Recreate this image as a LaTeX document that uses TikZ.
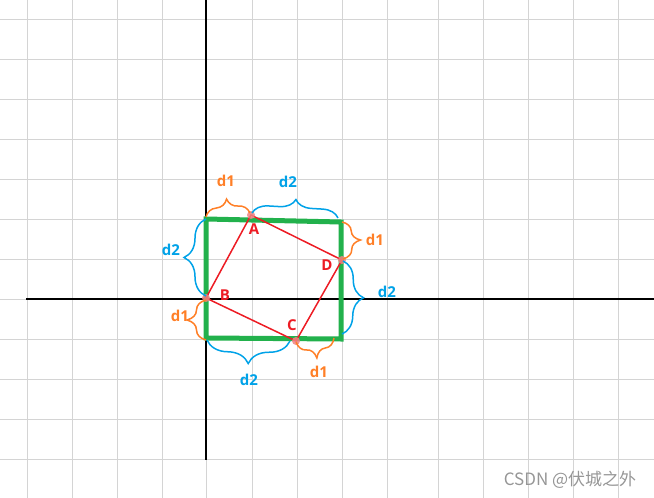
\documentclass[tikz,border=0pt]{standalone}
\usepackage{fontspec}
\setmainfont{Open Sans}
\newfontfamily\cjk{Noto Sans CJK SC}
\usetikzlibrary{decorations.pathreplacing}
\definecolor{racs}{RGB}{212,212,212}
\definecolor{zold}{RGB}{34,177,76}
\definecolor{piros}{RGB}{237,28,36}
\definecolor{narancs}{RGB}{255,127,39}
\definecolor{kek}{RGB}{0,162,232}
\definecolor{pont}{RGB}{240,130,130}
\definecolor{vizjel}{RGB}{150,150,150}
\tikzset{
	egyes/.style={narancs, line width=1.5pt, decorate, decoration={brace, amplitude=#1}},
	egyes/.default=17pt,
	kettes/.style={kek, line width=1.5pt, decorate, decoration={brace, amplitude=#1}},
	kettes/.default=20pt,
	felirat/.style={font=\fontsize{15}{17}\selectfont\bfseries, inner sep=0pt}
}
\begin{document}
\begin{tikzpicture}[x=1pt,y=-1pt]
	\useasboundingbox (0,0) rectangle (654,498);
	%rács
	\foreach \x in {27,72,117,162,206,252,297,342,387,438,483,528,573,618}
		\draw [racs, line width=1pt] (\x,0) -- (\x,498);
	\foreach \y in {19,59,...,459}
		\draw [racs, line width=1pt] (0,\y) -- (654,\y);
	%tengelyek
	\draw [black, line width=2pt] (26,299) -- (654,299);
	\draw [black, line width=2pt] (206,0) -- (206,460);
	
	%négyzet
	\draw [zold, line width=5pt] (206,219) -- (341,222) -- (341,339) -- (206,338) -- cycle;
	\coordinate (A) at (251,215);
	\coordinate (B) at (206,298);
	\coordinate (C) at (296,341);
	\coordinate (D) at (342,260);
	\draw [piros, line width=1.5pt] (A) -- (D) -- (C) -- (B) -- cycle;
	\foreach \p in {A,B,C,D}
		\fill [pont, opacity=0.85] (\p) circle [radius=4pt];
	\node [felirat, piros] (cA) at (254,229) {A};
	\node [felirat, piros] (cB) at (225,295) {B};
	\node [felirat, piros] (cC) at (292,325) {C};
	\node [felirat, piros] (cD) at (327,265) {D};
	
	%kapcsos zárójelek
	\draw [egyes=16pt] (206,217) -- (250,213);
	\draw [kettes=16pt] (252,213) -- (338,218);
	\draw [egyes=18pt] (342,222) -- (343,259);
	\draw [kettes=21pt] (343,261) -- (342,334);
	\draw [egyes=18pt] (334,338) -- (296,342);
	\draw [kettes=23pt] (290,341) -- (207,340);
	\draw [egyes=19pt] (206,340) -- (206,300);
	\draw [kettes=22pt] (206,296) -- (206,219);
	\node [felirat, narancs] (t1) at (226,181) {d1};
	\node [felirat, kek] (t2) at (288,182) {d2};
	\node [felirat, narancs] (r1) at (375,240) {d1};
	\node [felirat, kek] (r2) at (387,292) {d2};
	\node [felirat, narancs] (b1) at (319,372) {d1};
	\node [felirat, kek] (b2) at (249,380) {d2};
	\node [felirat, narancs] (l1) at (180,316) {d1};
	\node [felirat, kek] (l2) at (171,250) {d2};
	
	%vízjel
	\node [vizjel, inner sep=0pt] (jel) at (570,480) {\cjk\fontsize{17}{19}\selectfont CSDN @伏城之外};
\end{tikzpicture}
\end{document}
